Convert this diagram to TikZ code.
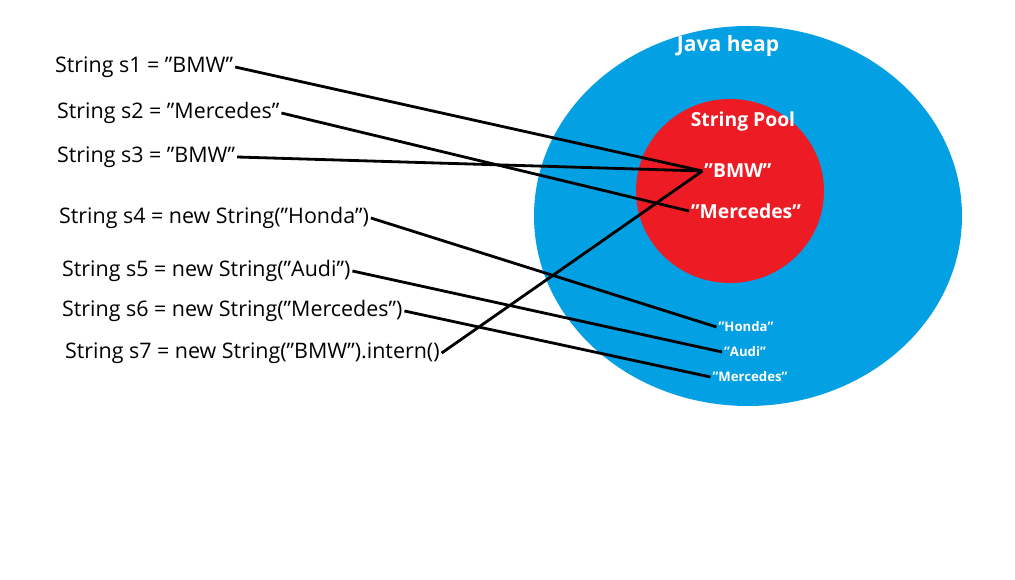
\documentclass[tikz,border=0pt]{standalone}
\usepackage{fontspec}
\setmainfont{Open Sans}
\definecolor{heapblue}{RGB}{3,160,227}
\definecolor{poolred}{RGB}{237,28,36}
\newcommand\qt{\symbol{34}}
\begin{document}
\begin{tikzpicture}[
		x=0.02cm,y=-0.02cm,
		ref/.style={line width=1.6pt,black},
		decl/.style={anchor=west,inner sep=1pt,font=\fontsize{12.2}{14}\selectfont},
		lit/.style={text=white,font=\bfseries\fontsize{11}{13}\selectfont,inner sep=1pt},
		small/.style={text=white,font=\bfseries\fontsize{7.5}{9}\selectfont,inner sep=1pt}
	]
		\useasboundingbox (0,0) rectangle (1015,580);

		%heap
		\fill[heapblue] (748,216) ellipse[x radius=214,y radius=190];
		\node[lit,font=\bfseries\fontsize{12}{14}\selectfont] (heap) at (728,46) {Java heap};

		%pool
		\fill[poolred] (730,191) ellipse[x radius=94,y radius=92];
		\node[lit] (pool) at (743,121) {String Pool};
		\node[lit] (bmw) at (738,171) {\qt BMW\qt};
		\node[lit] (merc) at (746,211) {\qt Mercedes\qt};

		%objects
		\node[small] (honda) at (746,327) {\qt Honda\qt};
		\node[small] (audi) at (745,352) {\qt Audi\qt};
		\node[small] (merc2) at (750,377) {\qt Mercedes\qt};

		%declarations
		\node[decl] (s1) at (53,67) {String s1 = \qt BMW\qt};
		\node[decl] (s2) at (55,113) {String s2 = \qt Mercedes\qt};
		\node[decl] (s3) at (55,157) {String s3 = \qt BMW\qt};
		\node[decl] (s4) at (57,218) {String s4 = new String(\qt Honda\qt)};
		\node[decl] (s5) at (60,271) {String s5 = new String(\qt Audi\qt)};
		\node[decl] (s6) at (60,311) {String s6 = new String(\qt Mercedes\qt)};
		\node[decl] (s7) at (63,353) {String s7 = new String(\qt BMW\qt).intern()};

		%references
		\draw[ref] (s1.east) -- (bmw.west);
		\draw[ref] (s2.east) -- (merc.west);
		\draw[ref] (s3.east) -- (bmw.west);
		\draw[ref] (s4.east) -- (honda.west);
		\draw[ref] (s5.east) -- (audi.west);
		\draw[ref] (s6.east) -- (merc2.west);
		\draw[ref] (s7.east) -- (bmw.west);
	\end{tikzpicture}
\end{document}
